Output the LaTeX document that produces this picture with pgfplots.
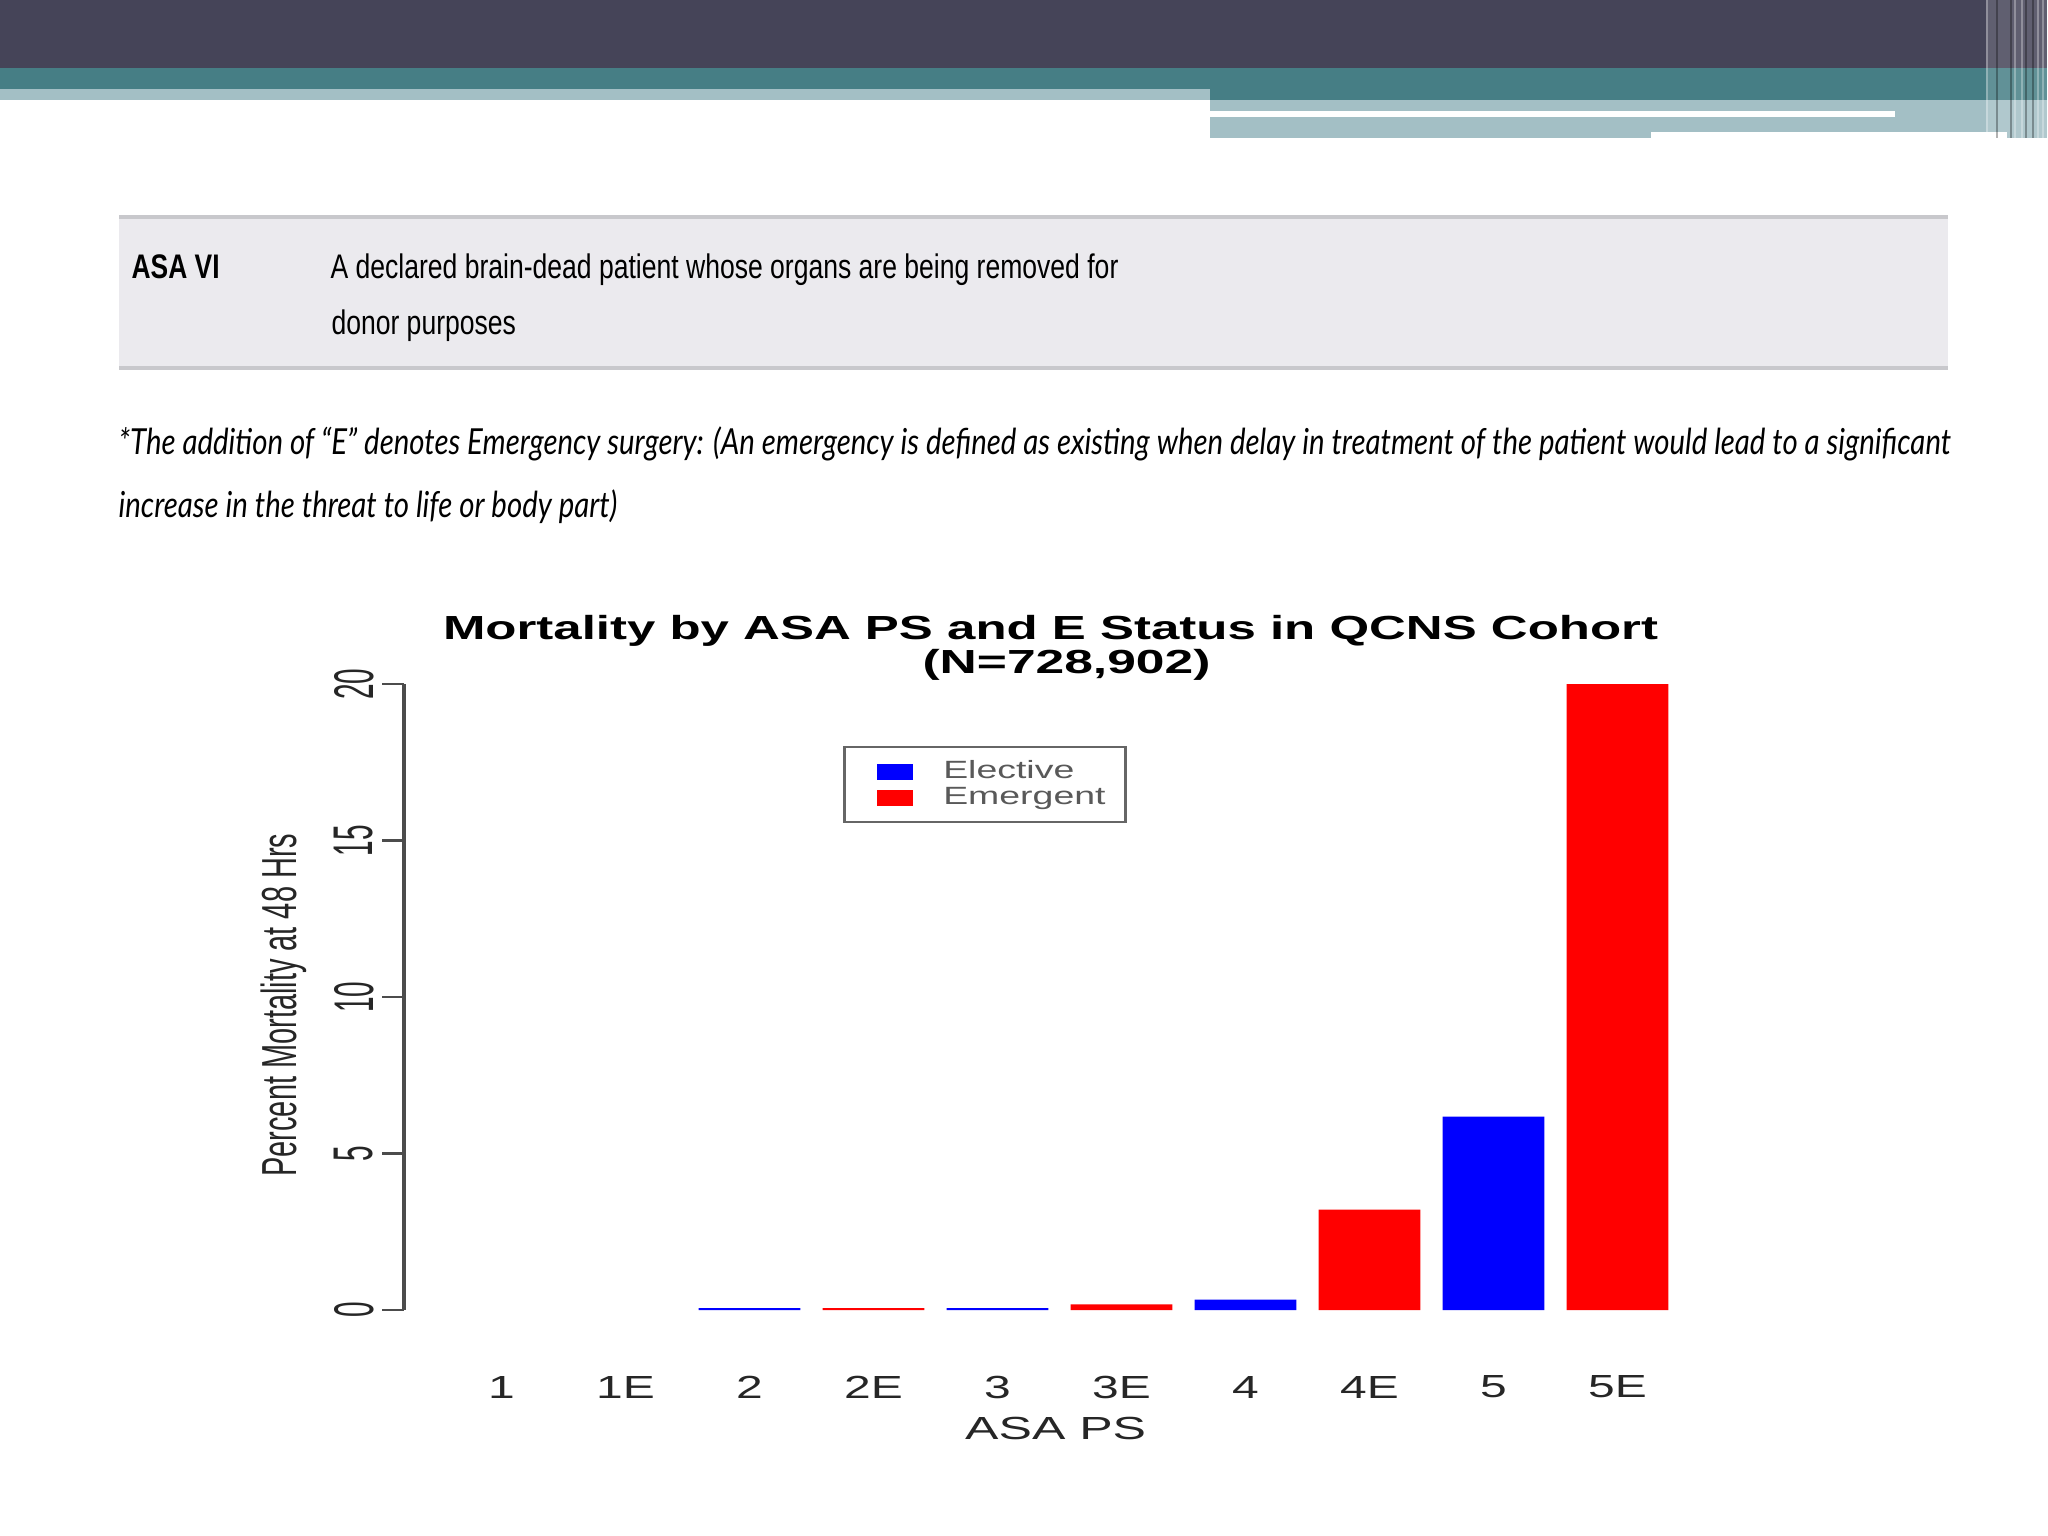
\documentclass[border=0pt]{standalone}
\usepackage{pgfplots}
\pgfplotsset{compat=1.18}
\usepackage{graphicx}
\usepackage{fontspec}
\setmainfont{Liberation Sans}
\newfontfamily\lib{Liberation Sans}
\newfontfamily\lato{Lato}
\newfontfamily\libwide[FakeStretch=1.5]{Liberation Sans}
\newfontfamily\libnarrow[FakeStretch=0.5]{Liberation Sans}
\definecolor{hdark}{RGB}{69,68,88}
\definecolor{hteal}{RGB}{70,126,133}
\definecolor{hlight}{RGB}{163,191,197}
\definecolor{tbl}{RGB}{235,234,238}
\definecolor{tblline}{RGB}{200,200,204}
\newsavebox{\fitbox}
\makeatletter
\newcommand{\fitw}[2]{\sbox{\fitbox}{#2}%
  \edef\fitratio{\strip@pt\dimexpr 1pt*\number\dimexpr#1\relax/\number\wd\fitbox\relax}%
  \global\let\lastfitratio\fitratio
  \scalebox{\fitratio}[1]{\usebox{\fitbox}}}
\makeatother
\begin{document}
\begin{tikzpicture}
\useasboundingbox (0,0) rectangle (20.48cm,-15.36cm);
\begin{scope}[x=0.01cm,y=-0.01cm]
\fill[white] (0,0) rectangle (2048,1536);
% header bands
\fill[hdark] (0,0) rectangle (2048,68);
\fill[hteal] (0,68) rectangle (2048,100);
\fill[hlight] (0,89) rectangle (1211,100);
\fill[hlight] (1211,100) rectangle (2048,132);
\fill[hlight] (1211,100) rectangle (1652,138);
\fill[hlight] (2008,100) rectangle (2048,138);
\fill[white] (1211,111) rectangle (1896,117);
\fill[white,opacity=0.15] (1987,0) rectangle (2048,138);
\foreach \xx/\cc in {1987/white,1997/black,2011/black,2015/white,2022/white,2026/black,2033/black,2038/white,2043/white}
  \fill[\cc,opacity=0.3] (\xx,0) rectangle (\xx+2,138);
% table row
\fill[tbl] (119,217) rectangle (1949,368);
\fill[tblline] (119,215) rectangle (1949,219);
\fill[tblline] (119,366) rectangle (1949,370);
\node[anchor=base west, inner sep=0] at (131,279) {\fitw{0.88cm}{\lib\fontsize{9.7}{11}\selectfont\bfseries ASA VI}};
\node[anchor=base west, inner sep=0] at (330,279) {\fitw{7.88cm}{\lib\fontsize{9.7}{11}\selectfont A declared brain-dead patient whose organs are being removed for}};
\node[anchor=base west, inner sep=0] at (331,335) {\scalebox{\lastfitratio}[1]{\lib\fontsize{9.7}{11}\selectfont donor purposes}};
% note
\node[anchor=base west, inner sep=0] at (118,455) {\fitw{18.32cm}{\lato\itshape\fontsize{10.2}{12}\selectfont *The addition of “E” denotes Emergency surgery: (An emergency is defined as existing when delay in treatment of the patient would lead to a significant}};
\node[anchor=base west, inner sep=0] at (118,518) {\scalebox{\lastfitratio}[1]{\lato\itshape\fontsize{10.2}{12}\selectfont increase in the threat to life or body part)}};
\end{scope}
\begin{axis}[
  at={(4.04cm,-13.10cm)}, anchor=south west,
  scale only axis, width=12.879cm, height=6.26cm,
  xmin=-0.786, xmax=9.6, ymin=0, ymax=20,
  /pgf/number format/assume math mode=true,
  axis y line*=left, axis x line*=bottom,
  x axis line style={draw=none},
  y axis line style={draw=black!70, line width=0.9pt},
  xtick={0,...,9}, xticklabels={1,1E,2,2E,3,3E,4,4E,5,5E},
  xtick style={draw=none},
  ytick={0,5,10,15,20},
  ytick style={draw=black!70, line width=0.6pt},
  tick align=outside, major tick length=0.22cm,
  xticklabel style={font=\libwide\fontsize{9.1}{10}\selectfont, text=black!85, anchor=center, yshift=-0.55cm},
  yticklabel style={font=\libnarrow\fontsize{15.9}{17}\selectfont, text=black!85, xshift=-0.28cm, rotate=90, anchor=center},
  title={\fitw{12.15cm}{\lib\bfseries\fontsize{9.5}{11}\selectfont Mortality by ASA PS and E Status in QCNS Cohort}\\ \hspace*{0.32cm}\fitw{2.88cm}{\lib\bfseries\fontsize{9.5}{11}\selectfont (N=728,902)}},
  title style={at={(axis description cs:0.502,1.024)}, anchor=center, align=center, font=\fontsize{9.5}{9.67}\selectfont},
  xlabel={\fitw{1.81cm}{\lib\fontsize{9.1}{11}\selectfont ASA PS}},
  xlabel style={at={(axis description cs:0.506,-0.190)}, anchor=center, text=black!85},
  ylabel={\fitw{3.43cm}{\lib\fontsize{14}{16}\selectfont Percent Mortality at 48 Hrs}},
  ylabel style={at={(axis description cs:-0.0932,0.487)}, anchor=center, text=black!85},
  legend style={at={(axis description cs:0.3409,0.901)}, anchor=north west, draw=black!60, line width=0.7pt, fill=white, font=\libwide\fontsize{7.1}{7.5}\selectfont, text=black!65, inner xsep=0.2cm, inner ysep=0.12cm, row sep=0.4pt,
    nodes={inner xsep=0pt, inner ysep=0pt, text height=5.4pt, text depth=1.6pt},
    /tikz/every odd column/.append style={column sep=0.30cm}},
  legend cell align=left,
]
\addplot[ybar, bar width=0.82, bar shift=0pt, fill=blue, draw=none,
  legend image code/.code={\path (0,0); \fill[blue] (0.13cm,-0.08cm) rectangle (0.49cm,0.08cm);}]
  coordinates {(2,0.06) (4,0.06) (6,0.33) (8,6.18)};
\addlegendentry{Elective}
\addplot[ybar, bar width=0.82, bar shift=0pt, fill=red, draw=none,
  legend image code/.code={\path (0,0); \fill[red] (0.13cm,-0.08cm) rectangle (0.49cm,0.08cm);}]
  coordinates {(3,0.06) (5,0.18) (7,3.21) (9,20)};
\addlegendentry{Emergent}
\end{axis}
\end{tikzpicture}
\end{document}
